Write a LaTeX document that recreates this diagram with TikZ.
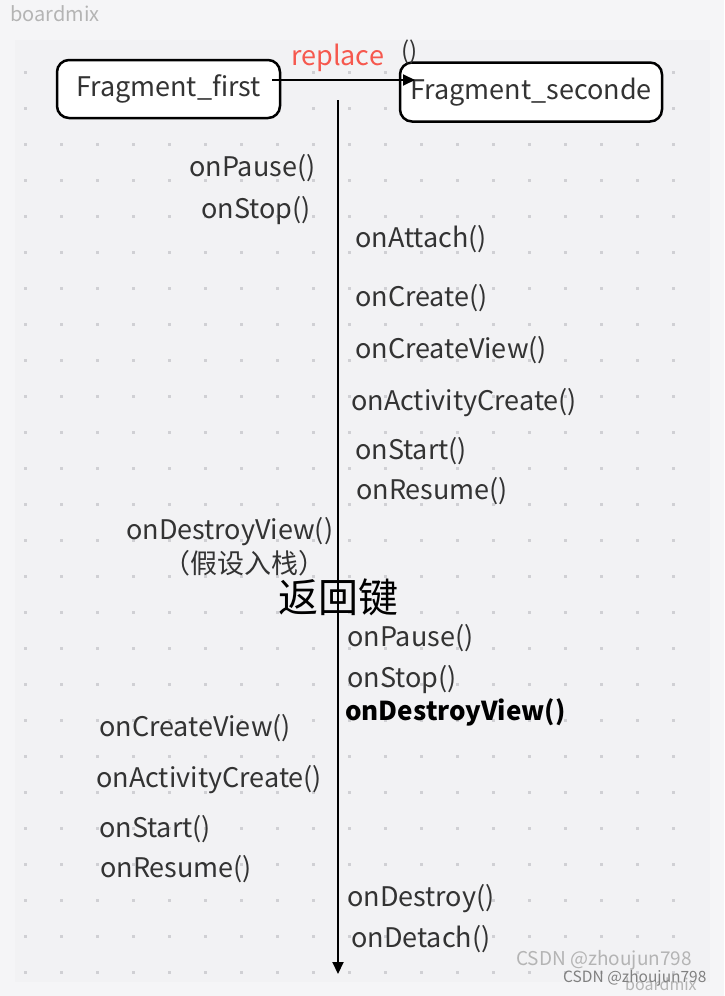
\documentclass[tikz,border=0pt]{standalone}
\usepackage{fontspec}
\setmainfont{Noto Sans CJK SC}
\usetikzlibrary{arrows.meta}
\definecolor{bgout}{RGB}{245,245,247}
\definecolor{bgpanel}{RGB}{242,242,244}
\definecolor{dotc}{RGB}{208,208,212}
\definecolor{txt}{RGB}{51,51,51}
\definecolor{repred}{RGB}{246,88,78}
\definecolor{wm}{RGB}{180,180,180}
\begin{document}
\begin{tikzpicture}[x=1pt,y=-1pt,
  lbl/.style={anchor=west,inner sep=0pt,text=txt,font=\fontsize{27}{27}\selectfont},
  box/.style={draw=black,line width=2.5pt,rounded corners=12pt,fill=white,inner sep=0pt,text=txt,font=\fontsize{27}{27}\selectfont},
  wmark/.style={inner sep=0pt,text=wm}]
\fill[bgout] (0,0) rectangle (724,996);
\useasboundingbox (0,0) rectangle (724,996);
\fill[bgpanel] (15,40) rectangle (710,982);
\foreach \i in {0,...,18} \foreach \j in {0,...,25}
  \fill[dotc] ({25+36*\i-1.5},{72+36*\j-1.5}) rectangle ++(3pt,-3pt);
\node[wmark,anchor=west,font=\fontsize{20}{20}\selectfont] (bm1) at (10,14) {boardmix};
% boxes
\node[box,minimum width=223pt,minimum height=58pt] (f1) at (168.5,89) {Fragment\_first};
\node[box,minimum width=262pt,minimum height=59pt] (f2) at (531,92) {Fragment\_seconde};
\coordinate (as) at (272,80);
\coordinate (ae) at (415,80);
\draw[line width=2pt,-{Triangle[length=12pt,width=11pt]}] (as) -- (ae);
\node[anchor=west,inner sep=0pt,text=repred,font=\fontsize{27}{27}\selectfont] (rep) at (291,58) {replace};
\node[anchor=west,inner sep=0pt,text=txt,font=\fontsize{24}{24}\selectfont] (par) at (401,52) {()};
% timeline
\coordinate (vtop) at (338,100);
\coordinate (vbot) at (338,974);
\draw[line width=2pt,-{Triangle[length=12pt,width=11pt]}] (vtop) -- (vbot);
% labels
\node[lbl] (l1) at (189,168) {onPause()};
\node[lbl] (l2) at (201,211) {onStop()};
\node[lbl] (r1) at (355,239) {onAttach()};
\node[lbl] (r2) at (355,298) {onCreate()};
\node[lbl] (r3) at (355,350) {onCreateView()};
\node[lbl] (r4) at (351,403) {onActivityCreate()};
\node[lbl] (r5) at (355,451) {onStart()};
\node[lbl] (r6) at (356,491) {onResume()};
\node[lbl] (l3) at (126,532) {onDestroyView()};
\node[lbl] (l4) at (163,563) {（假设入栈）};
\node[lbl,text=black,font=\fontsize{40}{40}\selectfont] (back) at (278,597) {返回键};
\node[lbl] (r7) at (347,638) {onPause()};
\node[lbl] (r8) at (347,680) {onStop()};
\node[lbl,text=black,font=\fontsize{26}{26}\selectfont\bfseries] (r9) at (345,712) {onDestroyView()};
\node[lbl] (l5) at (99,728) {onCreateView()};
\node[lbl] (l6) at (96,780) {onActivityCreate()};
\node[lbl] (l7) at (99,829) {onStart()};
\node[lbl] (l8) at (100,869) {onResume()};
\node[lbl] (r10) at (347,899) {onDestroy()};
\node[lbl] (r11) at (351,939) {onDetach()};
% watermarks
\node[wmark,anchor=west,font=\fontsize{19}{19}\selectfont] (wm1) at (516,960) {CSDN @zhoujun798};
\node[wmark,anchor=west,font=\fontsize{16}{16}\selectfont] (wm3) at (625,984) {boardmix};
\node[wmark,anchor=west,text=gray,font=\fontsize{15.5}{15.5}\selectfont] (wm2) at (563,978) {CSDN @zhoujun798};
\end{tikzpicture}
\end{document}
